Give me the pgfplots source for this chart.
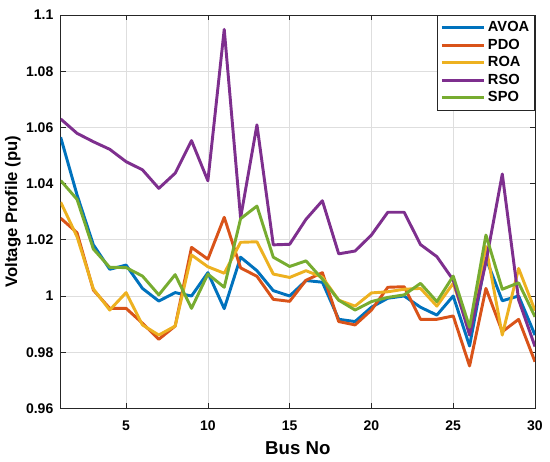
\documentclass[border=0pt]{standalone}
\usepackage{pgfplots}
\pgfplotsset{compat=1.18}
\usepackage{fontspec}
\setmainfont{Liberation Sans}
\definecolor{cA}{rgb}{0,0.447,0.741}
\definecolor{cP}{rgb}{0.85,0.325,0.098}
\definecolor{cR}{rgb}{0.929,0.694,0.125}
\definecolor{cS}{rgb}{0.494,0.184,0.556}
\definecolor{cG}{rgb}{0.466,0.674,0.188}
\definecolor{axgray}{rgb}{0.15,0.15,0.15}
\begin{document}
\begin{tikzpicture}
\begin{axis}[
  scale only axis,
  width=355.7pt, height=295pt,
  xmin=1, xmax=30, ymin=0.96, ymax=1.1,
  xtick={5,10,15,20,25,30},
  ytick={0.96,0.98,1,1.02,1.04,1.06,1.08,1.1},
  /pgf/number format/assume math mode=true,
  yticklabel style={/pgf/number format/fixed,/pgf/number format/precision=2, xshift=-2pt},
  xticklabel style={yshift=-6pt},
  ticklabel style={font=\fontsize{10.5}{12}\selectfont\bfseries},
  tick align=inside,
  major tick length=3.75pt,
  tick style={axgray, line width=0.5pt},
  axis line style={axgray, line width=0.6pt},
  grid=major,
  grid style={draw=black!13, line width=0.5pt},
  xlabel={Bus No}, ylabel={Voltage Profile (pu)},
  every axis x label/.style={at={(axis description cs:0.5,-0.1017)}, anchor=center, font=\fontsize{14}{16}\selectfont\bfseries},
  every axis y label/.style={at={(axis description cs:-0.101,0.5)}, rotate=90, anchor=center, font=\fontsize{12.5}{15}\selectfont\bfseries},
  legend style={at={(1,1)}, anchor=north east, draw=axgray, line width=0.6pt,
    font=\fontsize{11}{13}\selectfont\bfseries, inner xsep=2pt, inner ysep=2.5pt,
    row sep=0pt, cells={anchor=west}},
  legend cell align=left,
  legend image code/.code={\draw[#1] (0pt,0pt) -- (31.5pt,0pt);},
  every axis plot/.append style={line width=2.2pt, line join=round},
]
\addplot[cA] table {
1 1.0565
2 1.036
3 1.0182
4 1.0095
5 1.011
6 1.0027
7 0.9982
8 1.0012
9 1.0000
10 1.0083
11 0.9955
12 1.0138
13 1.009
14 1.0019
15 1.0000
16 1.0055
17 1.0049
18 0.9917
19 0.9909
20 0.996
21 0.9992
22 1.0000
23 0.996
24 0.9932
25 1.0000
26 0.9822
27 1.0134
28 0.9983
29 1.0000
30 0.9861
};
\addlegendentry{AVOA}
\addplot[cP] table {
1 1.0277
2 1.0225
3 1.0021
4 0.9956
5 0.9956
6 0.9903
7 0.9846
8 0.9893
9 1.0173
10 1.0131
11 1.0280
12 1.0100
13 1.0070
14 0.9988
15 0.9981
16 1.0056
17 1.0083
18 0.9909
19 0.9897
20 0.995
21 1.0031
22 1.0033
23 0.9917
24 0.9917
25 0.9929
26 0.9751
27 1.0027
28 0.9873
29 0.9917
30 0.9766
};
\addlegendentry{PDO}
\addplot[cR] table {
1 1.0334
2 1.0211
3 1.0025
4 0.995
5 1.0012
6 0.9897
7 0.9861
8 0.9893
9 1.0146
10 1.0104
11 1.0081
12 1.0191
13 1.0193
14 1.0078
15 1.0066
16 1.009
17 1.0067
18 0.9985
19 0.9964
20 1.0011
21 1.0015
22 1.0024
23 1.0027
24 0.9964
25 1.0045
26 0.9876
27 1.0176
28 0.9861
29 1.0098
30 0.9948
};
\addlegendentry{ROA}
\addplot[cS] table {
1 1.063
2 1.0579
3 1.0549
4 1.0522
5 1.0478
6 1.0449
7 1.0383
8 1.0437
9 1.0553
10 1.041
11 1.0949
12 1.0278
13 1.0609
14 1.0182
15 1.0184
16 1.0273
17 1.0339
18 1.015
19 1.016
20 1.0217
21 1.0298
22 1.0298
23 1.0183
24 1.014
25 1.0057
26 0.9861
27 1.012
28 1.0434
29 0.9986
30 0.982
};
\addlegendentry{RSO}
\addplot[cG] table {
1 1.0411
2 1.0344
3 1.0167
4 1.0102
5 1.0101
6 1.0071
7 1.0004
8 1.0076
9 0.9956
10 1.0078
11 1.0031
12 1.0275
13 1.032
14 1.0138
15 1.0105
16 1.0125
17 1.006
18 0.9985
19 0.995
20 0.998
21 0.9995
22 1.0004
23 1.0045
24 0.998
25 1.0071
26 0.9889
27 1.0217
28 1.0024
29 1.0047
30 0.9926
};
\addlegendentry{SPO}
\end{axis}
\pgfresetboundingbox
\path ([xshift=-45.5pt,yshift=-39.5pt]current axis.south west) rectangle ([xshift=11.25pt,yshift=11.25pt]current axis.north east);
\end{tikzpicture}
\end{document}
